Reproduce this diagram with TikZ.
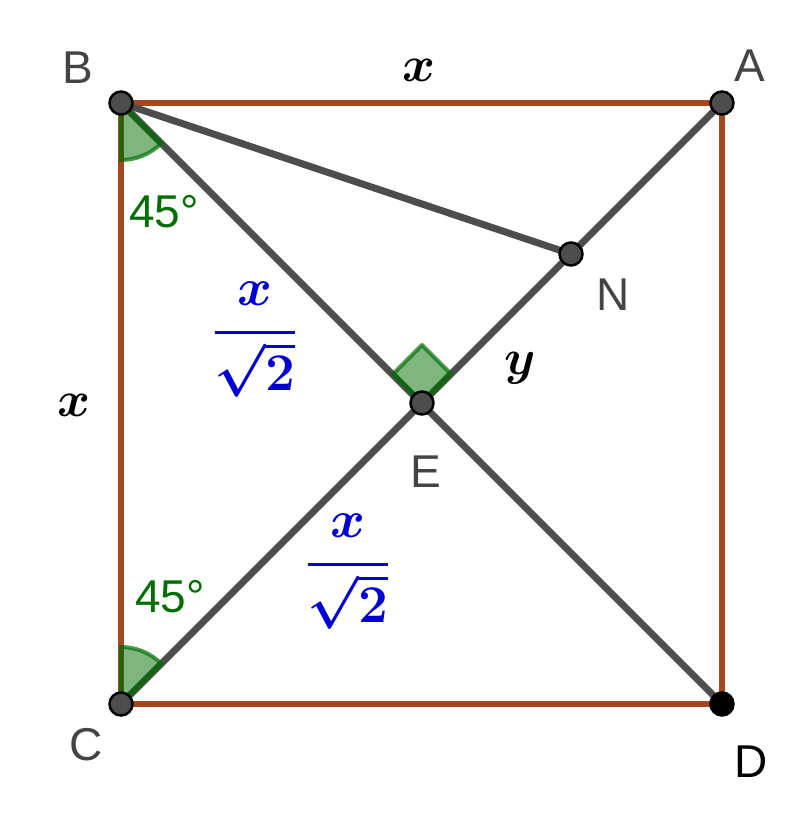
\RequirePackage{fix-cm}
\documentclass[tikz,border=0pt]{standalone}
\usepackage{amsmath,bm}
\usepackage{fontspec}
\setmainfont{Liberation Sans}
\definecolor{brn}{RGB}{165,72,30}
\definecolor{gln}{RGB}{77,77,77}
\definecolor{ggreen}{RGB}{0,110,0}
\definecolor{fblue}{RGB}{0,0,210}
\definecolor{lbl}{RGB}{68,68,68}
\newcommand{\xfrac}{\genfrac{}{}{2.6pt}{0}{\bm{x}}{\sqrt{2}}}
\tikzset{
  sq/.style={draw=brn,line width=6pt},
  seg/.style={draw=gln,line width=7pt},
  angmark/.style={fill=ggreen,fill opacity=0.5,draw=ggreen,draw opacity=0.7,line width=4pt},
  pt/.style={circle,fill=gln,draw=black,line width=2.5pt,minimum size=23pt,inner sep=0pt},
  ptk/.style={circle,fill=black,draw=black,line width=2.5pt,minimum size=23pt,inner sep=0pt},
  vlab/.style={text=lbl,font=\fontsize{46}{50}\selectfont,inner sep=0pt},
  anglab/.style={text=ggreen,font=\fontsize{46}{50}\selectfont,inner sep=0pt},
  mlab/.style={font=\fontsize{50}{55}\selectfont,inner sep=0pt},
  flab/.style={text=fblue,font=\fontsize{53}{58}\selectfont\boldmath,inner sep=0pt}
}
\begin{document}
\begin{tikzpicture}[x=1pt,y=-1pt]
\useasboundingbox (0,0) rectangle (811,829);
\coordinate (B) at (121,103);
\coordinate (A) at (722,103);
\coordinate (C) at (121,704);
\coordinate (D) at (722,704);
\coordinate (E) at (422,403);
\coordinate (N) at (571,254);
% square
\draw[sq,line cap=round] (B) -- (A) -- (D) -- (C) -- cycle;
% segments
\draw[seg] (B) -- (D);
\draw[seg] (C) -- (A);
\draw[seg] (B) -- (N);
% angle marks
\filldraw[angmark] (B) -- ++(45:57) arc[start angle=45,end angle=90,radius=57] -- cycle;
\filldraw[angmark] (C) -- ++(270:57) arc[start angle=270,end angle=315,radius=57] -- cycle;
\filldraw[angmark,line join=round] (E) -- ++(225:41) -- ++(315:41) -- ++(45:41) -- cycle;
% points
\node[pt] (pB) at (B) {};
\node[pt] (pA) at (A) {};
\node[pt] (pC) at (C) {};
\node[ptk] (pD) at (D) {};
\node[pt] (pE) at (E) {};
\node[pt] (pN) at (N) {};
% vertex labels
\node[vlab] (lB) at (78,68) {B};
\node[vlab] (lA) at (750,66) {A};
\node[vlab] (lC) at (86,745) {C};
\node[vlab,text=black] (lD) at (751,762) {D};
\node[vlab] (lE) at (426,472) {E};
\node[vlab] (lN) at (613,295) {N};
% angle labels
\node[anglab] (a1) at (164,212) {45°};
\node[anglab] (a2) at (170,597) {45°};
% math labels
\node[mlab] (x1) at (419,70) {$\bm{x}$};
\node[mlab] (x2) at (74,405) {$\bm{x}$};
\node[mlab] (y1) at (520,368) {$\bm{y}$};
\node[flab] (f1) at (255,340) {$\xfrac$};
\node[flab] (f2) at (348,572) {$\xfrac$};
\end{tikzpicture}
\end{document}
